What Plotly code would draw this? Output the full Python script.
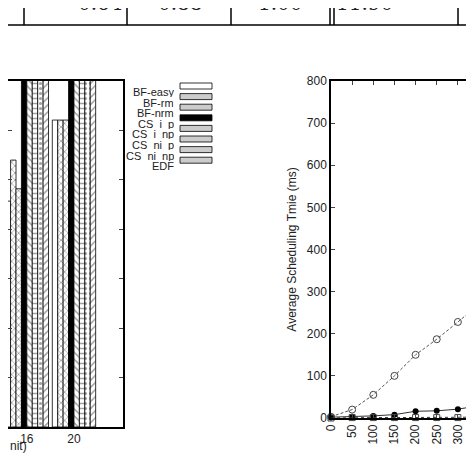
import plotly.graph_objects as go

# table row (cropped) at the top
table_vals = ["0.64", "0.88", "1.00", "11.90"]

# bar chart (left, cropped)
groups = [16, 20]
bar_series = ["BF-easy", "BF-rm", "BF-nrm", "CS_i_p", "CS_i_np", "CS_ni_p", "CS_ni_np", "EDF"]
bar_vals = {
    "BF-easy": [45.7, 62.1],
    "BF-rm": [54.0, 62.1],
    "BF-nrm": [48.2, 62.1],
    "CS_i_p": [100, 100],
    "CS_i_np": [100, 100],
    "CS_ni_p": [100, 100],
    "CS_ni_np": [100, 100],
    "EDF": [100, 100],
}
patterns = ["", "x", "x", "", "\\", "-", ".", "/"]

# line chart (right, cropped)
tasks = [0, 50, 100, 150, 200, 250, 300, 350]
open_circ = [3, 20, 55, 100, 150, 187, 228, 270]
filled_circ = [2, 3, 5, 8, 16, 17, 21, 29]
squares = [0, 1, 1, 1, 1, 1, 1, 2]

W = 474
H = 474
fig = go.Figure()

for i, name in enumerate(bar_series):
    black = name == "CS_i_p"
    fig.add_trace(go.Bar(
        x=[3, 4], y=bar_vals[name], name=name, showlegend=False,
        marker=dict(color="black" if black else "white",
                    line=dict(color="black", width=0.8),
                    pattern=dict(shape=patterns[i], fgcolor="#444", size=5, solidity=0.3)),
        xaxis="x", yaxis="y",
    ))

fig.add_trace(go.Scatter(x=tasks, y=open_circ, mode="lines+markers", showlegend=False,
                         line=dict(color="#555", width=1, dash="3px,2px"),
                         marker=dict(symbol="circle-open", size=7, color="#444"),
                         xaxis="x2", yaxis="y2", cliponaxis=False))
fig.add_trace(go.Scatter(x=tasks, y=filled_circ, mode="lines+markers", showlegend=False,
                         line=dict(color="#333", width=1), marker=dict(symbol="circle", size=6, color="black"),
                         xaxis="x2", yaxis="y2", cliponaxis=False))
fig.add_trace(go.Scatter(x=tasks, y=squares, mode="lines+markers", showlegend=False,
                         line=dict(color="#333", width=1, dash="dot"),
                         marker=dict(symbol="square-open", size=6, color="#444"),
                         xaxis="x2", yaxis="y2", cliponaxis=False))


def px_x(p): return p / W
def px_y(p): return 1 - p / H


fig.update_layout(
    width=W, height=H, margin=dict(l=0, r=0, t=0, b=0, autoexpand=False),
    plot_bgcolor="white", paper_bgcolor="white",
    barmode="group", bargap=0.08, bargroupgap=0,
    font=dict(family="Liberation Sans", size=12, color="#222"),
    xaxis=dict(domain=[0, px_x(115)], range=[2.6, 5.04], tickvals=[3, 4], ticktext=["16", "20"],
               showline=True, linecolor="black", linewidth=1.5, mirror=True, ticks="", showgrid=False,
               automargin=False),
    yaxis=dict(domain=[px_y(419), px_y(73)], range=[0, 70], dtick=10, showticklabels=False,
               showline=True, linecolor="black", linewidth=1.5, mirror="ticks", ticks="inside",
               ticklen=4, showgrid=False, zeroline=False, automargin=False),
    xaxis2=dict(domain=[px_x(323), 1], range=[0, 357], tickvals=tasks, tickangle=-90,
                anchor="y2", showline=True, linecolor="black", linewidth=1.5, mirror="ticks",
                ticks="inside", ticklen=4, showgrid=False, zeroline=False, automargin=False),
    yaxis2=dict(domain=[px_y(410), px_y(73)], range=[0, 800], dtick=100, anchor="x2",
                showline=True, linecolor="black", linewidth=1.5, ticks="inside", ticklen=4,
                showgrid=False, zeroline=False, automargin=False,
                title=dict(text="Average Scheduling Tmie (ms)", font=dict(size=12), standoff=8)),
)

shapes = [dict(type="line", xref="paper", yref="paper", x0=0, x1=1, y0=px_y(17), y1=px_y(17),
               line=dict(color="black", width=1.5))]
for xv in [16, 119, 223, 322, 326, 450]:
    shapes.append(dict(type="line", xref="paper", yref="paper", x0=px_x(xv), x1=px_x(xv),
                       y0=px_y(17), y1=1, line=dict(color="black", width=1.5)))
annotations = []
for txt, cx in zip(table_vals, [68, 172, 272, 387]):
    annotations.append(dict(text=txt, x=px_x(cx), y=px_y(9), xref="paper", yref="paper",
                            yanchor="bottom", showarrow=False,
                            font=dict(family="DejaVu Serif", size=20, color="#222")))

# legend of the bar chart drawn by hand
for i, name in enumerate(bar_series):
    yc = 78 + i * 10.6
    annotations.append(dict(text=name, x=px_x(167), y=px_y(yc), xref="paper", yref="paper",
                            xanchor="right", showarrow=False, font=dict(size=11),
                            borderpad=0, height=10))
    shapes.append(dict(type="rect", xref="paper", yref="paper", x0=px_x(172), x1=px_x(204),
                       y0=px_y(yc + 3), y1=px_y(yc - 3),
                       fillcolor="black" if name == "CS_i_p" else ("white" if i == 0 else "#ccc"),
                       line=dict(color="black", width=0.8)))
annotations.append(dict(text="nit)", x=px_x(0), y=px_y(447), xref="paper", yref="paper",
                        xanchor="left", showarrow=False, font=dict(size=12)))

fig.update_layout(shapes=shapes, annotations=annotations)
fig.write_html("out.html")
